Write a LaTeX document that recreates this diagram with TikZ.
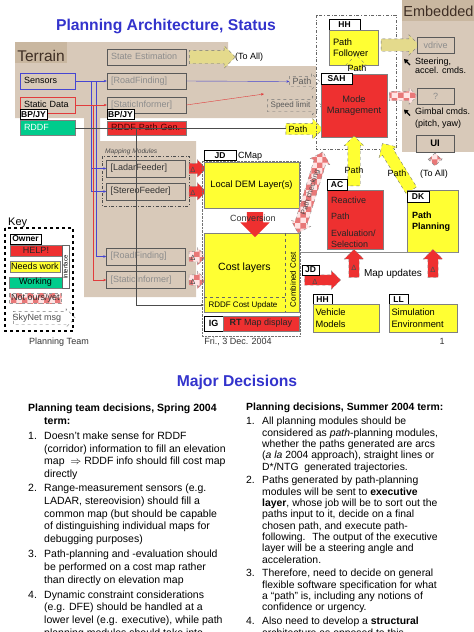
\documentclass[tikz,border=0pt]{standalone}
\usepackage{fontspec}
\setmainfont{Liberation Sans}
\usetikzlibrary{shapes.arrows,patterns,arrows.meta,calc}

\definecolor{beige}{RGB}{216,201,185}
\definecolor{beigedark}{RGB}{201,183,160}
\definecolor{boxred}{RGB}{238,48,48}
\definecolor{boxyellow}{RGB}{255,255,51}
\definecolor{boxgreen}{RGB}{0,204,140}
\definecolor{titleblue}{RGB}{51,51,204}
\definecolor{pinkbg}{RGB}{255,228,228}
\definecolor{pinkdk}{RGB}{232,120,120}
\definecolor{khaki}{RGB}{228,218,140}
\definecolor{linkblue}{RGB}{70,70,210}
\definecolor{linkred}{RGB}{225,60,60}
\definecolor{brownish}{RGB}{62,46,36}

\begin{document}
\begin{tikzpicture}[x=1pt,y=-1pt,
	every node/.style={font=\fontsize{9}{10.5}\selectfont,inner sep=0pt},
	tbox/.style={draw=black!65,fill=beige,text=black!45,minimum height=16pt,text width=71pt,inner xsep=4pt,align=left,text height=6.5pt,text depth=2pt},
	ebox/.style={draw=black!65,fill=beige,text=black!45,minimum width=37pt,minimum height=16pt},
	owner/.style={draw=black,fill=white,font=\fontsize{8.5}{9}\selectfont\bfseries,minimum height=10pt},
	redbox/.style={draw=black!50,fill=boxred,text=black!85},
	yelbox/.style={draw=black!50,fill=boxyellow,text=black},
	pinkfill/.style={preaction={fill=pinkbg},pattern=checkerboard,pattern color=pinkdk},
	fat/.style n args={3}{single arrow,single arrow head extend=#3,minimum height=#1,inner xsep=0pt,inner ysep=#2/2},
	dfat/.style n args={3}{double arrow,double arrow head extend=#3,minimum height=#1,inner xsep=0pt,inner ysep=#2/2},
	khakiarr/.style={draw=black!55,dashed,fill=khaki},
	yelarr/.style={draw=black!55,dashed,fill=boxyellow},
	redarr/.style={draw=black!45,dashed,fill=boxred},
	pinkarr/.style={draw=black!45,dashed,pinkfill},
	msgarr/.style={draw=black!55,dashed},
	delta/.style={font=\fontsize{7.5}{8}\selectfont,text=black!70},
	link/.style={-{Stealth[length=3pt,width=2.5pt]}},
	body/.style={anchor=north west,align=left,text=black}]
	\useasboundingbox (0,0) rectangle (474,632);
	\clip (0,0) rectangle (474,632);
	% backgrounds
	\fill[beige] (15,42) -- (228,42) -- (228,66) -- (316,66) -- (316,118) -- (100,118) -- (100,141) -- (196,141) -- (196,297) -- (84,297) -- (84,118) -- (15,118) -- cycle;
	\fill[beigedark] (15,42) rectangle (67,63);
	\node[anchor=base,font=\fontsize{15.5}{16}\selectfont,text=brownish] (terrain) at (41,61.5) {Terrain};
	\fill[beige] (402,0) rectangle (474,152);
	\fill[beigedark] (402,0) rectangle (474,21);
	\node[anchor=base,font=\fontsize{14.5}{16}\selectfont,text=brownish] (embedded) at (438.5,16.5) {Embedded};
	\node[anchor=base,font=\fontsize{15.7}{18}\selectfont\bfseries,text=titleblue] (title) at (166,30) {Planning Architecture, Status};

	% terrain modules
	\node[tbox] (stateest) at (146.5,57) {State Estimation};
	\node[fat={46}{13}{4.5},khakiarr] (toallA) at (209,57) {};
	\node[anchor=west] (toallAtxt) at (235,57) {(To All)};
	\node[tbox,draw=linkblue,text=black,text width=47pt] (sensors) at (47.5,81) {Sensors};
	\node[tbox] (road) at (146.5,81) {[RoadFinding]};
	\node[tbox,draw=linkred,text=black,text width=47pt] (static) at (47.5,105) {Static Data};
	\node[tbox] (statinf) at (146.5,105) {[StaticInformer]};
	\node[tbox,draw=black!50,fill=boxgreen,text=white,text width=47pt,minimum height=15pt] (rddf) at (47.5,128) {RDDF};
	\node[tbox,draw=black!50,fill=boxred,text=black!70!red,minimum height=14pt] (pathgen) at (146.5,128.5) {RDDF Path Gen.};
	\node[owner,minimum width=27pt] (bpjyA) at (33.5,114.5) {BP/JY};
	\node[owner,minimum width=27pt] (bpjyB) at (120.5,114.5) {BP/JY};
	\node[fat={30}{10}{3},msgarr] (pathmsg) at (302,81.5) {};
	\node[text=black!65] (pathmsgtxt) at (302,81.5) {Path};
	\node[fat={54}{12}{3},msgarr] (speedmsg) at (291.5,105.5) {};
	\node[font=\fontsize{8}{9}\selectfont,text=black!65] (speedtxt) at (290.5,105.5) {Speed limit};
	\coordinate (spdend) at (264,94);
	\node[fat={37}{11}{4.5},yelarr] (pathyel) at (301.5,129) {};
	\node (pathyeltxt) at (298,129.5) {Path};

	% mapping modules
	\draw[black!70,dash dot] (102,156) rectangle (189,206);
	\node[anchor=west,font=\fontsize{6.6}{7}\selectfont\itshape,text=black!70] (mapmodtxt) at (105,152) {Mapping Modules};
	\node[tbox,text=black!80,minimum height=17pt] (ladar) at (146,168.5) {[LadarFeeder]};
	\node[tbox,text=black!80,minimum height=17pt] (stereo) at (146,191.5) {[StereoFeeder]};
	\node[tbox,minimum height=17pt] (roadB) at (146,256.5) {[RoadFinding]};
	\node[tbox,minimum height=17pt] (statinfB) at (146,280) {[StaticInformer]};
	\node[fat={17}{10}{3.5},redarr] (dLadar) at (195,168.5) {};
	\node[delta] (dLadarD) at (193,170) {Δ};
	\node[fat={17}{10}{3.5},redarr] (dStereo) at (195,191.5) {};
	\node[delta] (dStereoD) at (193,193) {Δ};
	\node[fat={17}{10}{3.5},pinkarr] (dRoad) at (195,256.5) {};
	\node[delta] (dRoadD) at (193,258) {Δ};
	\node[fat={17}{10}{3.5},pinkarr] (dStat) at (195,280) {};
	\node[delta] (dStatD) at (193,281.5) {Δ};

	% cost map
	\draw[black!55,densely dotted] (202,161) rectangle (300,336);
	\node[owner,minimum width=32pt] (jdA) at (220,155.5) {JD};
	\node[anchor=west] (cmap) at (238,156) {CMap};
	\node[yelbox,minimum width=95pt,minimum height=46pt,font=\fontsize{9.3}{10}\selectfont] (dem) at (251.5,185) {Local DEM Layer(s)};
	\node[yelbox,minimum width=95pt,minimum height=79pt] (cost) at (251.5,272.5) {};
	\draw[black!60,dashed] ([xshift=-14pt]cost.north east) -- ([xshift=-14pt]cost.south east);
	\draw[black!60,dashed] ([yshift=15pt]cost.south west) -- ([xshift=-14pt,yshift=15pt]cost.south east);
	\node[font=\fontsize{10.5}{12}\selectfont] (costtxt) at (244.5,268) {Cost layers};
	\node[font=\fontsize{8}{9}\selectfont] (rddfup) at (243,305) {RDDF Cost Update};
	\node[font=\fontsize{8}{9}\selectfont,rotate=90] (combcost) at (293,279.5) {Combined Cost};
	\node[fat={25}{16}{6.5},fill=boxred,rotate=-90] (conv) at (255,220.5) {};
	\node[text=black!80] (convtxt) at (253,218) {Conversion};
	\node[owner,minimum width=19pt,minimum height=15pt,font=\fontsize{9}{10}\selectfont\bfseries] (ig) at (213.5,323.5) {IG};
	\node[redbox,minimum width=76pt,minimum height=15pt] (rtmap) at (261,323.5) {\textbf{RT} Map display};
	\node[dfat={85}{12}{4},pinkarr,rotate=72.85] (pcheck) at (310.5,192.5) {};
	\node[font=\fontsize{7.5}{8}\selectfont,rotate=72.85,text=black!70] (pchecktxt) at (310.5,192.5) {Path checking};

	% mode management
	\draw[black!60,dash dot] (316,15) rectangle (396,149);
	\node[owner,minimum width=31pt,minimum height=11pt] (hhA) at (344.5,24.5) {HH};
	\node[yelbox,minimum width=49pt,minimum height=35pt,text width=41pt,inner xsep=4pt,align=left,font=\fontsize{9.3}{11.5}\selectfont] (follower) at (353.5,47.5) {Path\\Follower};
	\node[redbox,minimum width=66pt,minimum height=63pt,align=center,font=\fontsize{9.3}{11}\selectfont] (mode) at (354,105.5) {Mode\\Management};
	\node[owner,minimum width=31pt,minimum height=11pt] (sah) at (336.5,78.5) {SAH};
	\node[fat={15}{12}{4},yelarr,rotate=90] (pathSAH) at (356,65.5) {};
	\node (pathSAHtxt) at (357,68) {Path};
	\node[fat={38}{12}{4},khakiarr] (toVdrive) at (397,45) {};
	\node[fat={28}{9}{3.5},pinkarr] (toGimbal) at (401,96) {};

	% embedded
	\node[ebox] (vdrive) at (435.5,45) {vdrive};
	\node[ebox] (unknown) at (435.5,96) {?};
	\node[ebox,text=black,font=\fontsize{9.5}{10}\selectfont\bfseries,minimum width=38pt,minimum height=17pt] (ui) at (435,143.5) {UI};
	\node[dfat={13}{8}{3},pinkarr,rotate=90] (uiall) at (435,159.5) {};
	\node[anchor=base] (toallB) at (434,176) {(To All)};
	\node[anchor=base west] (steerA) at (415,64) {Steering,};
	\node[anchor=base west] (steerB) at (415,73.5) {accel. cmds.};
	\node[anchor=base west] (gimbalA) at (415,114.5) {Gimbal cmds.};
	\node[anchor=base west] (gimbalB) at (415,126.5) {(pitch, yaw)};
	\draw[-{Triangle[length=4pt,width=5pt]},line width=1.4pt] ([xshift=-5pt,yshift=-1pt]steerA.base west) -- ++(-6,-6);
	\draw[-{Triangle[length=4pt,width=5pt]},line width=1.4pt] ([xshift=-5pt,yshift=-1pt]gimbalA.base west) -- ++(-6,-6);

	% planners
	\node[fat={50}{12}{3.5},yelarr,rotate=90] (pathAC) at (354,164) {};
	\node (pathACtxt) at (354,170) {Path};
	\node[fat={55}{12}{4},yelarr,rotate=121.7] (pathDK) at (398.5,169.5) {};
	\node (pathDKtxt) at (397,173.5) {Path};
	\node[redbox,minimum width=56pt,minimum height=59pt] (reactive) at (355,219.5) {};
	\node[anchor=north west,align=left,font=\fontsize{9}{11.5}\selectfont,text=black!85] (reactivetxt) at (331,196.5) {Reactive\\[5pt]Path\\[5pt]Evaluation/\\Selection};
	\node[owner,minimum width=20pt,minimum height=11pt] (ac) at (337,184.5) {AC};
	\node[yelbox,minimum width=51pt,minimum height=62pt] (pp) at (432.5,221) {};
	\node[owner,minimum width=22pt,minimum height=11pt] (dk) at (418,196.5) {DK};
	\node[anchor=north west,align=left,font=\fontsize{9}{11}\selectfont\bfseries] (pptxt) at (412,211.5) {Path\\Planning};
	\draw[black!45] (cost.east |- pp.south) -- (pp.south east);
	\node[fat={36}{10}{4},redarr] (mapupd) at (320,280) {};
	\node[delta] (mapupdD) at (315,282) {Δ};
	\node[owner,minimum width=17pt,minimum height=10pt] (jdB) at (310.5,270) {JD};
	\node[fat={28}{10}{4.5},redarr,rotate=90] (updAC) at (354,266) {};
	\node[delta] (updACD) at (354,268) {Δ};
	\node[fat={28}{10}{4.5},redarr,rotate=90] (updDK) at (433,266) {};
	\node[delta] (updDKD) at (433,270) {Δ};
	\node[font=\fontsize{10}{11}\selectfont] (mapupdtxt) at (393,274) {Map updates};
	\node[owner,minimum width=19pt,minimum height=10pt] (hhB) at (322.5,299.5) {HH};
	\node[yelbox,minimum width=66pt,minimum height=28pt,text width=61pt,inner xsep=2.5pt,align=left,font=\fontsize{9.3}{11.5}\selectfont] (vehicle) at (346,318) {Vehicle\\Models};
	\node[owner,minimum width=19pt,minimum height=10pt] (ll) at (398.5,299.5) {LL};
	\node[yelbox,minimum width=68pt,minimum height=28pt,text width=63pt,inner xsep=2.5pt,align=left,font=\fontsize{9.3}{11.5}\selectfont] (simenv) at (423,318) {Simulation\\Environment};

	% links
	\draw[linkblue,link] (sensors) -- (road);
	\draw[linkblue,link] (sensors.east) -- ++(15.7,0) |- (ladar.west);
	\draw[linkblue,link] (sensors.east) -- ++(15.7,0) |- (stereo.west);
	\draw[linkblue,link] (sensors.east) -- ++(21,0) |- (roadB.west);
	\draw[linkred,link] (static) -- (statinf);
	\draw[linkred,link] (static.east) -- ++(17.5,0) |- (statinfB.west);
	\draw[linkblue,link] (road.east) -- (pathmsg.tail);
	\draw[linkred,link] (statinf.east) -- (spdend);
	\draw[black!70] (rddf.east) -- (rddf.east -| pathyel.tail);
	\draw[black!70,link] ([xshift=61pt]rddf.east) |- (rddfup.west -| cost.west);

	% key
	\node[anchor=base west,font=\fontsize{11}{12}\selectfont] (keytxt) at (8,225.5) {Key};
	\draw[black,dashed,line width=1.1pt] (5,228) rectangle (73,331);
	\node[owner,minimum width=31pt] (kowner) at (25.5,239) {Owner};
	\node[redbox,minimum width=52pt,minimum height=11pt] (khelp) at (36,250.5) {HELP!};
	\node[yelbox,minimum width=50pt,minimum height=11pt] (kneeds) at (35,266.5) {Needs work};
	\node[draw=black!50,fill=boxgreen,minimum width=53pt,minimum height=11pt] (kwork) at (35.5,282.5) {Working};
	\node[draw=black!60,fill=white,minimum width=7pt,minimum height=43pt] (kiface) at (65.5,267) {};
	\node[rotate=90,font=\fontsize{6}{6}\selectfont] (kifacetxt) at (kiface) {Interface};
	\node[draw=black!40,dashed,pinkfill,minimum width=52pt,minimum height=10pt,text=black!80] (knot) at (35.5,298.5) {Not ours/yet};
	\node[fat={62}{13}{2.5},msgarr] (kmsg) at (41,318) {};
	\node[text=black!70] (kmsgtxt) at (37,318) {SkyNet msg};

	% footer
	\node[anchor=base,text=black!80] (team) at (59,344.5) {Planning Team};
	\node[anchor=base,text=black!80] (date) at (238,344.5) {Fri., 3 Dec. 2004};
	\node[anchor=base,text=black!80] (pageno) at (442,344.5) {1};

	% major decisions
	\node[anchor=base,font=\fontsize{15.7}{18}\selectfont\bfseries,text=titleblue] (majortitle) at (237,386) {Major Decisions};
	\node[body,font=\fontsize{10.5}{12.7}\selectfont] (leftcol) at (28,404) {%
		\textbf{Planning team decisions, Spring 2004}\\
		\hspace*{16pt}\textbf{term:}\\[2.3pt]
		\makebox[16pt][l]{1.}Doesn’t make sense for RDDF\\
		\hspace*{16pt}(corridor) information to fill an elevation\\
		\hspace*{16pt}map \ $\Rightarrow$ RDDF info should fill cost map\\
		\hspace*{16pt}directly\\[1.5pt]
		\makebox[16pt][l]{2.}Range-measurement sensors (e.g.\\
		\hspace*{16pt}LADAR, stereovision) should fill a\\
		\hspace*{16pt}common map (but should be capable\\
		\hspace*{16pt}of distinguishing individual maps for\\
		\hspace*{16pt}debugging purposes)\\[2.3pt]
		\makebox[16pt][l]{3.}Path-planning and -evaluation should\\
		\hspace*{16pt}be performed on a cost map rather\\
		\hspace*{16pt}than directly on elevation map\\[2.3pt]
		\makebox[16pt][l]{4.}Dynamic constraint considerations\\
		\hspace*{16pt}(e.g. DFE) should be handled at a\\
		\hspace*{16pt}lower level (e.g. executive), while path\\
		\hspace*{16pt}planning modules should take into};
	\node[body,font=\fontsize{10.4}{11.35}\selectfont] (rightcol) at (246,403) {%
		\textbf{Planning decisions, Summer 2004 term:}\\[2.65pt]
		\makebox[16pt][l]{1.}All planning modules should be\\
		\hspace*{16pt}considered as \textit{path}-planning modules,\\
		\hspace*{16pt}whether the paths generated are arcs\\
		\hspace*{16pt}(\textit{a la} 2004 approach), straight lines or\\
		\hspace*{16pt}D*/NTG \ generated trajectories.\\[2.2pt]
		\makebox[16pt][l]{2.}Paths generated by path-planning\\
		\hspace*{16pt}modules will be sent to \textbf{executive}\\
		\hspace*{16pt}\textbf{layer}, whose job will be to sort out the\\
		\hspace*{16pt}paths input to it, decide on a final\\
		\hspace*{16pt}chosen path, and execute path-\\
		\hspace*{16pt}following. \ The output of the executive\\
		\hspace*{16pt}layer will be a steering angle and\\
		\hspace*{16pt}acceleration.\\[2.2pt]
		\makebox[16pt][l]{3.}Therefore, need to decide on general\\
		\hspace*{16pt}flexible software specification for what\\
		\hspace*{16pt}a “path” is, including any notions of\\
		\hspace*{16pt}confidence or urgency.\\[2.6pt]
		\makebox[16pt][l]{4.}Also need to develop a \textbf{structural}\\
		\hspace*{16pt}architecture as opposed to this};
\end{tikzpicture}
\end{document}
